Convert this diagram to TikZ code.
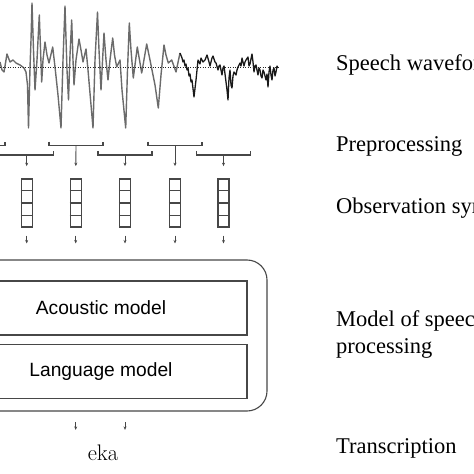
\documentclass[tikz,border=0pt]{standalone}
\usepackage{fontspec}
\newfontfamily\timesf{Liberation Serif}
\newfontfamily\arialf{Liberation Sans}
\usetikzlibrary{calc,arrows.meta}
\begin{document}
\begin{tikzpicture}[x=1bp,y=-1bp,
  ln/.style={draw=black!72, line width=1.1bp},
  arr/.style={draw=black!72, line width=0.9bp, -{Stealth[length=3.5bp,width=3bp]}},
  obs/.style={ln, inner sep=0, minimum width=11bp, minimum height=48bp},
  mbox/.style={ln, inner sep=0, minimum width=292bp, minimum height=54bp, font=\arialf\fontsize{19.2bp}{23bp}\selectfont},
  lab/.style={anchor=base west, inner sep=0, font=\timesf\fontsize{22.5bp}{27bp}\selectfont}]
\useasboundingbox (0,0) rectangle (474,474);
\clip (0,0) rectangle (474,474);
% waveform
\draw[black!58, line width=1.4bp, line join=round] plot coordinates {
(0,62) (2,70) (4,72) (7,54) (10,62) (13,60) (16,63) (20,65) (24,68) (26,72) (27.5,85) (28.5,128) (30,68) (31,40) (32,3) (33.5,50) (35,90) (37,60) (39.3,15) (41.7,82) (43,60) (45,42) (47,55) (49,63) (52.7,47) (55,67) (58,95) (61,128) (63,60) (65,6) (67,70) (68.5,100) (70,55) (71.7,20) (73,60) (74,85) (76,60) (79,39) (81,50) (83,62) (86,49) (88,70) (93,128) (95,60) (97.5,12) (99,50) (101,90) (104,33) (106,60) (108,80) (110,60) (112.7,38) (114.5,55) (116.7,67) (120,60) (122,90) (125.7,128) (127.5,70) (129.3,23) (131,50) (133.3,78) (137.3,47) (141.7,73) (146.7,44) (150,60) (152,70) (155,85) (158.3,108) (161,75) (164,45) (166,55) (168.3,63) (171.7,60) (176,72) (180,53)};
\draw[black!90, line width=1.3bp, line join=round] plot coordinates {
(180,53) (182,58) (183,62) (184,60) (185,66) (186,64) (187,70) (188,68) (189,76) (190,74) (191,82) (192,80) (194,97) (196,80) (198,60) (200,64) (201,58) (203,62) (205,60) (207,55) (209,62) (210,66) (212,58) (213,56) (215,62) (216,63) (218,70) (219,66) (220,65) (222,75) (223,68) (224,66) (226,82) (227,90) (228,100) (229,78) (230,70) (231,85) (232,88) (233,76) (234,72) (236,75) (237,70) (238,67) (240,63) (241,66) (242,58) (244,66) (245,62) (246,60) (248,57) (249,66) (250,64) (252,54) (253,62) (254,72) (255,66) (256,65) (258,75) (259,68) (260,70) (261,76) (262,78) (263,70) (264,72) (266,80) (267,74) (268,87) (269,72) (270,66) (271,75) (272,80) (273,70) (274,68) (275,76) (276,72) (277,66) (278,68)};
\draw[black!85, line width=0.7bp, dash pattern=on 1bp off 1.5bp] (0,67) -- (278,67);
% brackets
\foreach \n/\x/\y in {u0/-22/145.7, u1/76/145.7, u2/175/145.7, l1/26.7/155, l2/125/155, l3/223.5/155}{
  \coordinate (\n) at (\x,\y);
  \draw[ln] ($(\n)+(-27,-4)$) -- ($(\n)+(-27,0)$) -- ($(\n)+(27,0)$) -- ($(\n)+(27,-4)$);
}
% observation symbols
\foreach \i/\x in {1/26.7, 2/75.7, 3/125, 4/175, 5/223.5}{
  \node[obs] (o\i) at (\x,203) {};
  \foreach \k in {1,2,3}{
    \draw[ln] ($(o\i.north west)!\k/4!(o\i.south west)$) -- ($(o\i.north east)!\k/4!(o\i.south east)$);
  }
}
\draw[arr, shorten >=12.3bp] (l1) -- (o1.north);
\draw[arr, shorten >=12.3bp] (u1) -- (o2.north);
\draw[arr, shorten >=12.3bp] (l2) -- (o3.north);
\draw[arr, shorten >=12.3bp] (u2) -- (o4.north);
\draw[arr, shorten >=12.3bp] (l3) -- (o5.north);
% model
\node[ln, rounded corners=20bp, minimum width=297bp, minimum height=151bp, inner sep=0] (model) at (118.5,335.5) {};
\node[mbox] (am) at (101,308) {Acoustic model};
\node[mbox] (lm) at (101,371.3) {Language model};
\foreach \i in {1,...,5}{
  \draw[arr, shorten <=8bp, shorten >=16bp] (o\i.south) -- (o\i.south |- model.north);
}
% transcription
\node[inner sep=0, anchor=base, font=\fontsize{22.5bp}{27bp}\selectfont] (eka) at (103,460.7) {eka};
\draw[arr, shorten <=10.7bp, shorten >=15bp] (o2.south |- model.south) -- (o2.south |- eka.north);
\draw[arr, shorten <=10.7bp, shorten >=15bp] (o3.south |- model.south) -- (o3.south |- eka.north);
% labels
\node[lab] (sw) at (336,70.7) {Speech waveform};
\node[lab] (pp) at (336,151.7) {Preprocessing};
\node[lab] (os) at (336,213.3) {Observation symbols};
\node[lab] (ms) at (336,326) {Model of speech};
\node[lab] (ms2) at (336,353.3) {processing};
\node[lab] (tr) at (336,453.3) {Transcription};
\end{tikzpicture}
\end{document}
